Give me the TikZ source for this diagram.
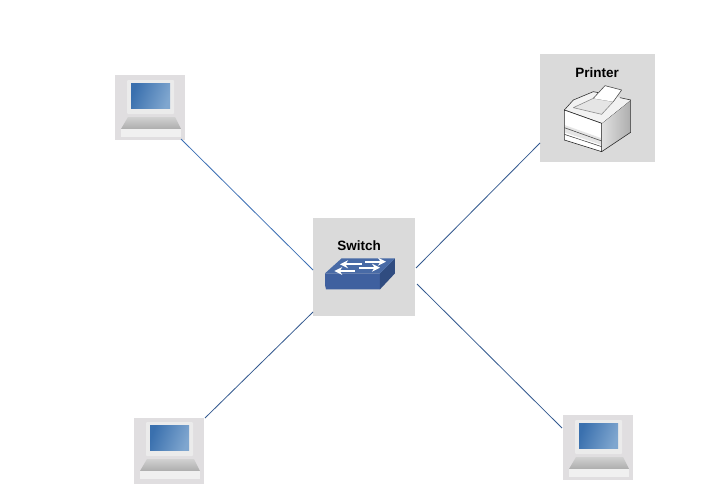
\documentclass[tikz,border=0pt]{standalone}
\usepackage{fontspec}
\setmainfont{Liberation Sans}
\usetikzlibrary{arrows.meta}
\definecolor{tilegray}{HTML}{DADADA}
\definecolor{pcgray}{HTML}{E0DEE0}
\definecolor{linkblue}{HTML}{3C6FB4}
\definecolor{linkdark}{HTML}{33598F}
\definecolor{swtop}{HTML}{486AA6}
\definecolor{swfront}{HTML}{3F609F}
\definecolor{swside}{HTML}{304C80}
\definecolor{scrdark}{HTML}{3A70AE}
\definecolor{scrlight}{HTML}{7FA6CF}
\tikzset{
  tile/.style={anchor=north west,inner sep=0pt,outer sep=0pt,fill=tilegray,draw=none},
  pctile/.style={tile,fill=pcgray,minimum width=70pt},
  caption/.style={font=\bfseries\fontsize{13.5}{14}\selectfont,inner sep=0pt,text=black},
  link/.style={linkblue,line width=0.8pt},
  linkd/.style={linkdark,line width=0.8pt},
  swarrow/.style={white,line width=2pt,-{Stealth[length=8pt,width=8pt]}},
  pics/pcicon/.style={code={
    % monitor
    \fill[rounded corners=1pt,black!8] (12,5) rectangle (59,39);
    \shade[left color=scrdark,right color=scrlight,shading angle=70] (16,8) rectangle (55,33);
    % keyboard
    \shade[top color=black!18,bottom color=black!32] (13,42) -- (60,42) -- (66,54) -- (6,54) -- cycle;
    \fill[black!6] (6,54) -- (66,54) -- (66,62) -- (6,62) -- cycle;
  }}
}
\begin{document}
\begin{tikzpicture}[x=1pt,y=-1pt]
\useasboundingbox[fill=white] (0,0) rectangle (701,503);

% tiles
\node[tile,minimum width=102pt,minimum height=98pt] (sw) at (313,218) {};
\node[tile,minimum width=115pt,minimum height=108pt] (pr) at (540,54) {};
\node[pctile,minimum height=65pt] (pc1) at (115,75) {};
\node[pctile,minimum height=66pt] (pc2) at (134,418) {};
\node[pctile,minimum height=65pt] (pc3) at (563,415) {};

% connector ends
\coordinate (a1) at (181,139);
\coordinate (b1) at (313,270);
\coordinate (a2) at (205,418);
\coordinate (b2) at (313,312);
\coordinate (a3) at (562,428);
\coordinate (b3) at (417,284);
\coordinate (a4) at (540,143);
\coordinate (b4) at (416,268);
\draw[link] (a1) -- (b1);
\draw[linkd] (a2) -- (b2);
\draw[linkd] (a3) -- (b3);
\draw[linkd] (a4) -- (b4);

% computers
\pic at (115,75) {pcicon};
\pic at (134,417) {pcicon};
\pic at (563,415) {pcicon};

% switch icon (zoom coordinates)
\begin{scope}[shift={(300,205)},x=0.3333pt,y=-0.3333pt]
  \fill[swfront] (75,205) -- (240,205) -- (240,253) -- (78,253) -- (75,240) -- cycle;
  \fill[swside] (240,205) -- (285,160) -- (285,205) -- (240,253) -- cycle;
  \fill[swtop] (125,160) -- (285,160) -- (240,205) -- (75,205) -- cycle;
  \draw[swarrow] (185,178) -- (120,178);
  \draw[swarrow] (195,170) -- (258,170);
  \draw[swarrow] (165,198) -- (103,198);
  \draw[swarrow] (178,188) -- (240,188);
\end{scope}
\node[caption] (swl) at (359,246) {Switch};

% printer icon (zoom coordinates)
\begin{scope}[shift={(530,45)},x=0.3333pt,y=-0.3333pt,line width=0.6pt,line join=round]
  % right side
  \shade[left color=black!12,right color=black!32] (215,235) -- (302,165) -- (302,262) -- (215,320) -- cycle;
  \draw[black!80] (215,235) -- (302,165) -- (302,262) -- (215,320) -- cycle;
  % top
  \fill[black!5] (103,195) -- (130,165) -- (190,140) -- (302,165) -- (215,235) -- cycle;
  \draw[black!80] (103,195) -- (130,165) -- (190,140) -- (205,143);
  \draw[black!80] (270,158) -- (302,165);
  \draw[black!80] (103,195) -- (215,235);
  \fill[black!10] (130,188) -- (190,160) -- (250,170) -- (215,208) -- cycle;
  \draw[black!45] (130,188) -- (190,160) -- (250,170) -- (215,208) -- cycle;
  % paper
  \fill[white] (190,160) -- (225,122) -- (275,135) -- (250,170) -- cycle;
  \draw[black!70] (190,160) -- (225,122) -- (275,135) -- (250,170);
  % front
  \fill[white] (103,195) -- (215,235) -- (215,320) -- (103,285) -- cycle;
  \fill[black!10] (103,240) -- (215,280) -- (215,300) -- (103,262) -- cycle;
  \draw[black!85] (103,195) -- (215,235) -- (215,320) -- (103,285) -- cycle;
  \draw[black!70] (103,248) -- (215,288);
  \draw[black!70] (103,268) -- (215,305);
\end{scope}
\node[caption] (prl) at (597,72.5) {Printer};
\end{tikzpicture}
\end{document}
